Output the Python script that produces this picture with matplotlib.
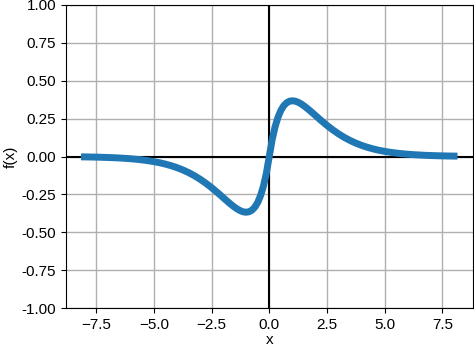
import numpy as np
import matplotlib
matplotlib.use('Agg')
from matplotlib import pyplot as plt

plt.rcParams['font.family'] = ['Liberation Sans', 'DejaVu Sans']

# values
x_vals = [-8.0, -7.75, -7.5, -7.25, -7.0, -6.75, -6.5, -6.25, -6.0, -5.75, -5.5, -5.25,
          -5.0, -4.75, -4.5, -4.25, -4.0, -3.75, -3.5, -3.25, -3.0, -2.75, -2.5, -2.25,
          -2.0, -1.875, -1.75, -1.625, -1.5, -1.375, -1.25, -1.125, -1.0, -0.875, -0.75,
          -0.625, -0.5, -0.375, -0.25, -0.125, 0.0,
          0.125, 0.25, 0.375, 0.5, 0.625, 0.75, 0.875, 1.0, 1.125, 1.25, 1.375, 1.5,
          1.625, 1.75, 1.875, 2.0, 2.25, 2.5, 2.75, 3.0,
          3.25, 3.5, 3.75, 4.0, 4.25, 4.5, 4.75, 5.0, 5.25, 5.5, 5.75, 6.0,
          6.25, 6.5, 6.75, 7.0, 7.25, 7.5, 7.75, 8.0]
y_vals = [-0.0027, -0.0033, -0.0041, -0.0052, -0.0064, -0.0079, -0.0098, -0.0121,
          -0.0149, -0.0183, -0.0225, -0.0276, -0.0337, -0.0411, -0.0500, -0.0606,
          -0.0733, -0.0882, -0.1057, -0.1260, -0.1494, -0.1758, -0.2052, -0.2371,
          -0.2707, -0.2876, -0.3041, -0.3200, -0.3347, -0.3476, -0.3581, -0.3653,
          -0.3679, -0.3648, -0.3543, -0.3346, -0.3033, -0.2577, -0.1947, -0.1103, 0.0,
          0.1103, 0.1947, 0.2577, 0.3033, 0.3346, 0.3543, 0.3648, 0.3679, 0.3653,
          0.3581, 0.3476, 0.3347, 0.3200, 0.3041, 0.2876, 0.2707, 0.2371,
          0.2052, 0.1758, 0.1494, 0.1260, 0.1057, 0.0882, 0.0733, 0.0606, 0.0500,
          0.0411, 0.0337, 0.0276, 0.0225, 0.0183, 0.0149, 0.0121, 0.0098, 0.0079,
          0.0064, 0.0052, 0.0041, 0.0033, 0.0027]

W, H = 474, 347
fig = plt.figure(figsize=(W / 100, H / 100), dpi=100)
ax = fig.add_axes([66 / W, 1 - 308 / H, (472.5 - 66) / W, (308 - 5) / H])

ax.plot(x_vals, y_vals, color='#1f77b4', linewidth=5, zorder=3,
        solid_joinstyle='round')
ax.axhline(0, color='black', linewidth=1.5, zorder=2)
ax.axvline(0, color='black', linewidth=1.5, zorder=2)
ax.grid(True, color='#b0b0b0', linewidth=1.0)
ax.set_axisbelow(True)
ax.set_ylim(-1, 1)
ax.set_xlim(-8.8, 8.8)
ax.set_xticks([-7.5, -5.0, -2.5, 0.0, 2.5, 5.0, 7.5])
ax.set_yticks(np.arange(-1, 1.01, 0.25))
ax.yaxis.set_major_formatter(matplotlib.ticker.FormatStrFormatter('%.2f'))
ax.tick_params(labelsize=11)
ax.set_xlabel('x', fontsize=11, labelpad=1)
ax.set_ylabel('f(x)', fontsize=11, labelpad=3)

fig.savefig('out.png', dpi=100)
